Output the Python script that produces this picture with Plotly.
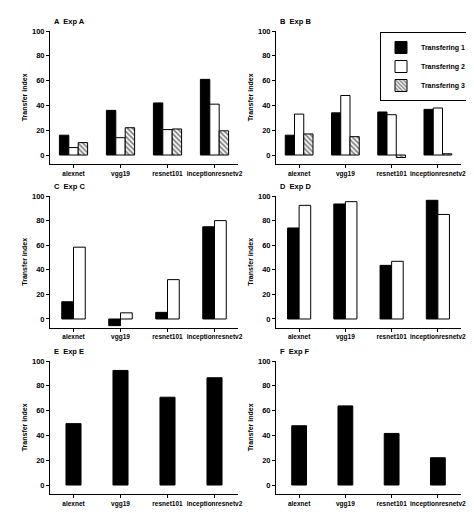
import plotly.graph_objects as go

# Transfer index per network
categories = ["alexnet", "vgg19", "resnet101", "inceptionresnetv2"]

expA_t1 = [16, 36, 42, 61]
expA_t2 = [6, 14, 20.5, 41]
expA_t3 = [10, 22, 21, 19.5]

expB_t1 = [16, 34, 34.7, 36.8]
expB_t2 = [33, 48, 32.5, 37.9]
expB_t3 = [17, 14.8, -2, 1]

expC_t1 = [14, -5.4, 5.4, 75]
expC_t2 = [58.4, 5, 32, 80]

expD_t1 = [74, 93.5, 43.6, 96.5]
expD_t2 = [92.4, 95.4, 46.9, 85]

expE_t1 = [49.5, 92.4, 70.8, 86.5]
expF_t1 = [47.8, 63.8, 41.6, 22]

series_names = ["Transfering 1", "Transfering 2", "Transfering 3"]
panel_titles = ["A  Exp A", "B  Exp B", "C  Exp C", "D  Exp D", "E  Exp E", "F  Exp F"]

panels = [
    [expA_t1, expA_t2, expA_t3],
    [expB_t1, expB_t2, expB_t3],
    [expC_t1, expC_t2],
    [expD_t1, expD_t2],
    [expE_t1],
    [expF_t1],
]

W, H = 474, 513

# marker styles for the three transfer series
styles = [
    dict(color="black", line=dict(color="black", width=1)),
    dict(color="white", line=dict(color="black", width=1)),
    dict(color="white", line=dict(color="black", width=1),
         pattern=dict(shape="\\", fgcolor="black", bgcolor="white", size=3.5, solidity=0.5)),
]

# bar width per number of bars in a group
bar_width = {1: 0.32, 2: 0.25, 3: 0.2}

# pixel boxes of each panel (left, right, top, bottom)
x_px = [(42, 230), (268, 453)]
y_px = [(23, 155.7), (188, 319.6), (353, 485.7)]

fig = go.Figure()
layout = {}
annotations = []

for i, series in enumerate(panels):
    n = i + 1
    row, col = i // 2, i % 2
    xa = "x" if n == 1 else "x%d" % n
    ya = "y" if n == 1 else "y%d" % n
    w = bar_width[len(series)]
    start = -w * len(series) / 2
    for j, vals in enumerate(series):
        fig.add_trace(go.Bar(
            x=categories, y=vals, name=series_names[j],
            width=w, offset=start + j * w,
            marker=styles[j],
            showlegend=(n == 2),
            xaxis=xa, yaxis=ya,
        ))

    left, right = x_px[col]
    top, bottom = y_px[row]
    xdom = [left / W, right / W]
    ydom = [1 - bottom / H, 1 - top / H]

    layout["xaxis" if n == 1 else "xaxis%d" % n] = dict(
        domain=xdom, anchor=ya, type="category",
        range=[-0.5, 3.5], showline=True, linecolor="black", linewidth=1,
        ticks="outside", ticklen=3, tickcolor="black", tickangle=0,
        tickfont=dict(size=6.5), showgrid=False, zeroline=False, automargin=False,
    )
    layout["yaxis" if n == 1 else "yaxis%d" % n] = dict(
        domain=ydom, anchor=xa,
        range=[-7, 100], tickvals=[0, 20, 40, 60, 80, 100],
        showline=True, linecolor="black", linewidth=1,
        ticks="outside", ticklen=3, tickcolor="black",
        tickfont=dict(size=7.5), showgrid=False, zeroline=False, automargin=False,
        title=dict(text="Transfer index", font=dict(size=7), standoff=3),
    )
    annotations.append(dict(
        text=panel_titles[i], xref="paper", yref="paper",
        x=(left + 2) / W, y=1 - (top - 10) / H,
        xanchor="left", yanchor="middle", showarrow=False,
        font=dict(size=7.5),
    ))

fig.update_layout(
    **layout,
    annotations=annotations,
    barmode="overlay",
    width=W, height=H,
    margin=dict(l=0, r=0, t=0, b=0),
    paper_bgcolor="white", plot_bgcolor="white",
    font=dict(family="Arial, Liberation Sans, sans-serif", size=7, color="black", weight="bold"),
    legend=dict(
        x=372 / W, y=1 - 24 / H, xanchor="left", yanchor="top",
        bordercolor="black", borderwidth=1, bgcolor="white",
        font=dict(size=7), tracegroupgap=0, itemwidth=30,
    ),
)

fig.write_html("out.html")
